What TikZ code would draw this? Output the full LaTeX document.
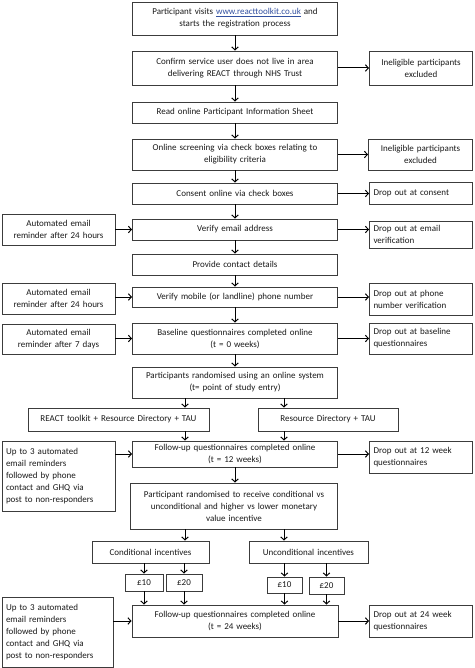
\documentclass[tikz,border=0pt]{standalone}
\usepackage{fontspec}
\setmainfont{Carlito}
\usetikzlibrary{arrows.meta}
\definecolor{ln}{RGB}{60,60,60}
\definecolor{url}{RGB}{50,80,160}
\tikzset{
  bx/.style={draw=ln, line width=0.9pt, inner sep=2pt, align=center,
    font=\fontsize{9}{12}\selectfont, text=black!90},
  bxl/.style={bx, align=left},
  arr/.style={draw=black, line width=1pt, -{Straight Barb[length=3pt,width=6.5pt,line width=1pt]}},
}
\newcommand{\bxat}[6]{% name, style, cx, cy, w, h, text
  \node[#2, minimum width=#5pt, minimum height=#6pt, text width=#5pt-8pt] (#1) at (#3,#4)}
\begin{document}
\begin{tikzpicture}[x=1pt,y=-1pt]
\useasboundingbox (0,0) rectangle (474,668);
% main column
\bxat{n1}{bx}{235}{18.5}{205}{33} {Participant visits {\color{url}\underline{www.reacttoolkit.co.uk}} and\\starts the registration process};
\bxat{n2}{bx}{235}{68}{205}{34} {Confirm service user does not live in area\\delivering REACT through NHS Trust};
\bxat{n3}{bx}{235}{112.5}{205}{21} {Read online Participant Information Sheet};
\bxat{n4}{bx}{235}{154.5}{205}{31} {Online screening via check boxes relating to\\eligibility criteria};
\bxat{n5}{bx}{235}{193.5}{205}{21} {Consent online via check boxes};
\bxat{n6}{bx}{235}{229.5}{205}{21} {Verify email address};
\bxat{n7}{bx}{235}{264.5}{205}{21} {Provide contact details};
\bxat{n8}{bx}{235}{297}{205}{20} {Verify mobile (or landline) phone number};
\bxat{n9}{bx}{235}{338.5}{205}{31} {Baseline questionnaires completed online\\(t = 0 weeks)};
\bxat{n10}{bx}{235}{382.5}{205}{31} {Participants randomised using an online system\\(t= point of study entry)};
\bxat{a1}{bx}{118.5}{419.5}{181}{23} {REACT toolkit + Resource Directory + TAU};
\bxat{a2}{bx}{328}{419.5}{140}{23} {Resource Directory + TAU};
\bxat{n11}{bx}{235}{454}{205}{26} {Follow-up questionnaires completed online\\(t = 12 weeks)};
\bxat{n12}{bx}{234}{506}{207}{46} {Participant randomised to receive conditional vs\\unconditional and higher vs lower monetary\\value incentive};
\bxat{c1}{bx}{150.5}{552}{117}{22} {Conditional incentives};
\bxat{c2}{bx}{308.5}{552}{119}{22} {Unconditional incentives};
\bxat{p1}{bx}{144}{582.5}{38}{17} {£10};
\bxat{p2}{bx}{184}{582.5}{36}{17} {£20};
\bxat{p3}{bx}{284.5}{585}{35}{16} {£10};
\bxat{p4}{bx}{326.5}{585.5}{35}{17} {£20};
\bxat{n13}{bx}{235}{621}{206}{32} {Follow-up questionnaires completed online\\(t = 24 weeks)};
% right column
\bxat{e1}{bx}{421}{68}{103}{34} {Ineligible participants\\excluded};
\bxat{e2}{bx}{420.5}{154.5}{104}{31} {Ineligible participants\\excluded};
\bxat{e3}{bxl}{421}{193}{103}{22} {Drop out at consent};
\bxat{e4}{bxl}{421}{234.5}{103}{27} {Drop out at email\\verification};
\bxat{e5}{bxl}{421}{299}{103}{32} {Drop out at phone\\number verification};
\bxat{e6}{bxl}{421}{338.5}{103}{31} {Drop out at baseline\\questionnaires};
\bxat{e7}{bxl}{421}{457}{103}{32} {Drop out at 12 week\\questionnaires};
\bxat{e8}{bxl}{421}{621}{103}{32} {Drop out at 24 week\\questionnaires};
% left column
\bxat{l1}{bx}{58.5}{229.5}{113}{31} {Automated email\\reminder after 24 hours};
\bxat{l2}{bx}{58.5}{298.5}{113}{31} {Automated email\\reminder after 24 hours};
\bxat{l3}{bx}{58.5}{339}{113}{30} {Automated email\\reminder after 7 days};
\bxat{l4}{bxl}{58.5}{476}{113}{70} {Up to 3 automated\\email reminders\\followed by phone\\contact and GHQ via\\post to non-responders};
\bxat{l5}{bxl}{57.5}{632}{111}{70} {Up to 3 automated\\email reminders\\followed by phone\\contact and GHQ via\\post to non-responders};
% branch x positions
\coordinate (bx1) at (185,0);
\coordinate (bx2) at (284,0);
% vertical arrows
\foreach \a/\b in {n1/n2,n2/n3,n3/n4,n4/n5,n5/n6,n6/n7,n7/n8,n8/n9,n9/n10,n11/n12}
  \draw[arr] (\a.south) -- (\a.south |- \b.north);
\draw[arr] (n10.south -| bx1) -- (a1.north -| bx1);
\draw[arr] (n10.south -| bx2) -- (a2.north -| bx2);
\draw[arr] (a1.south -| bx1) -- (n11.north -| bx1);
\draw[arr] (a2.south -| bx2) -- (n11.north -| bx2);
\draw[arr] (n12.south -| bx1) -- (c1.north -| bx1);
\draw[arr] (n12.south -| bx2) -- (c2.north -| bx2);
\draw[arr] (c1.south -| p1) -- (p1.north);
\draw[arr] (c1.south -| p2) -- (p2.north);
\draw[arr] (c2.south -| p3) -- (p3.north);
\draw[arr] (c2.south -| p4) -- (p4.north);
\foreach \p in {p1,p2,p3,p4}
  \draw[arr] (\p.south) -- (\p.south |- n13.north);
% right arrows
\foreach \a/\b in {n2/e1,n4/e2,n5/e3,n6/e4,n8/e5,n9/e6,n11/e7,n13/e8}
  \draw[arr] (\a.east) -- (\a.east -| \b.west);
% left arrows
\foreach \a/\b in {l1/n6,l2/n8,l3/n9,l4/n11,l5/n13}
  \draw[arr] (\a.east |- \b.west) -- (\b.west);
\end{tikzpicture}
\end{document}
